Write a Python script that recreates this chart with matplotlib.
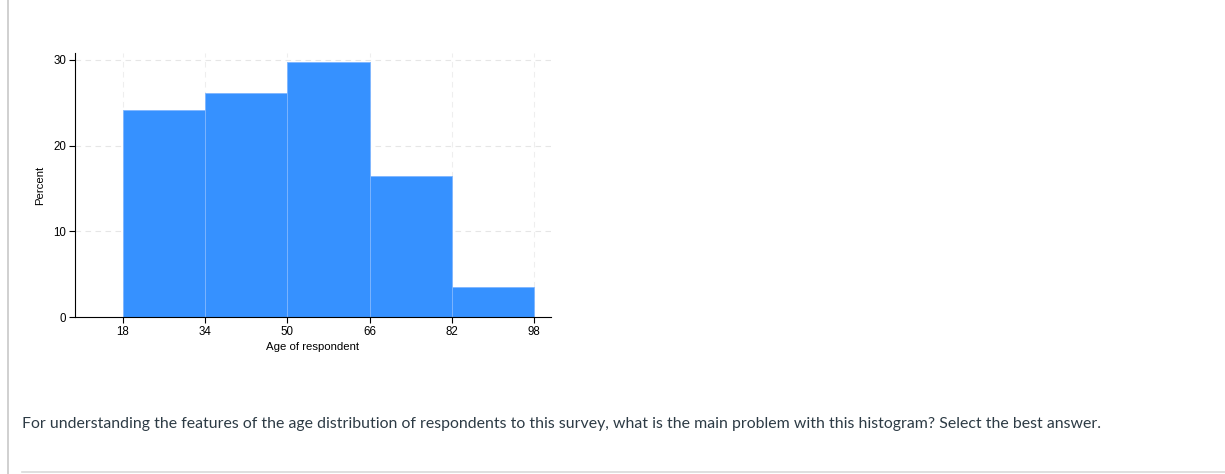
import matplotlib
matplotlib.use("Agg")
import matplotlib.pyplot as plt
from matplotlib.lines import Line2D

bin_edges = [18, 34, 50, 66, 82, 98]
percents = [24.1, 26.1, 29.8, 16.5, 3.5]
x_ticks = [18, 34, 50, 66, 82, 98]
y_ticks = [0, 10, 20, 30]
x_label = "Age of respondent"
y_label = "Percent"
question = ("For understanding the features of the age distribution of respondents to this survey, "
            "what is the main problem with this histogram? Select the best answer.")

W, H = 1225, 474
fig = plt.figure(figsize=(W / 100, H / 100), dpi=100)
plt.rcParams['font.family'] = ['Liberation Sans', 'DejaVu Sans']

ax = fig.add_axes([75 / W, 1 - 317 / H, (551 - 75) / W, (317 - 53) / H])
ax.set_xlim(8.66, 101.3)
ax.set_ylim(0, 30.8)

for y in y_ticks[1:]:
    ax.axhline(y, color='#e6e6e6', lw=0.8, ls=(0, (5, 4)), zorder=0)
for x in x_ticks:
    ax.axvline(x, color='#eeeeee', lw=0.8, ls=(0, (5, 4)), zorder=0)

ax.hist(bin_edges[:-1], bins=bin_edges, weights=percents, color='#3691ff',
        edgecolor='#7fb6ff', linewidth=0.6, zorder=2)

ax.set_xticks(x_ticks)
ax.set_yticks(y_ticks)
ax.tick_params(labelsize=8.3, length=4, width=0.8, color='black', pad=2.5)
for s in ['top', 'right']:
    ax.spines[s].set_visible(False)
for s in ['left', 'bottom']:
    ax.spines[s].set_linewidth(0.8)
ax.set_xlabel(x_label, fontsize=8.2, labelpad=3)
ax.set_ylabel(y_label, fontsize=8.2, labelpad=6)

fig.add_artist(Line2D([8 / W, 8 / W], [0, 1], color='#c8c8c8', lw=1.2))
fig.add_artist(Line2D([22 / W, 1], [1 - 472 / H, 1 - 472 / H], color='#d9d9d9', lw=1.2))

fig.text(22 / W, 1 - 424 / H, question, fontsize=11.45, family=['Lato', 'DejaVu Sans'],
         color='#2d3b45', va='center', ha='left')

fig.savefig("out.png", dpi=100, facecolor='white')
